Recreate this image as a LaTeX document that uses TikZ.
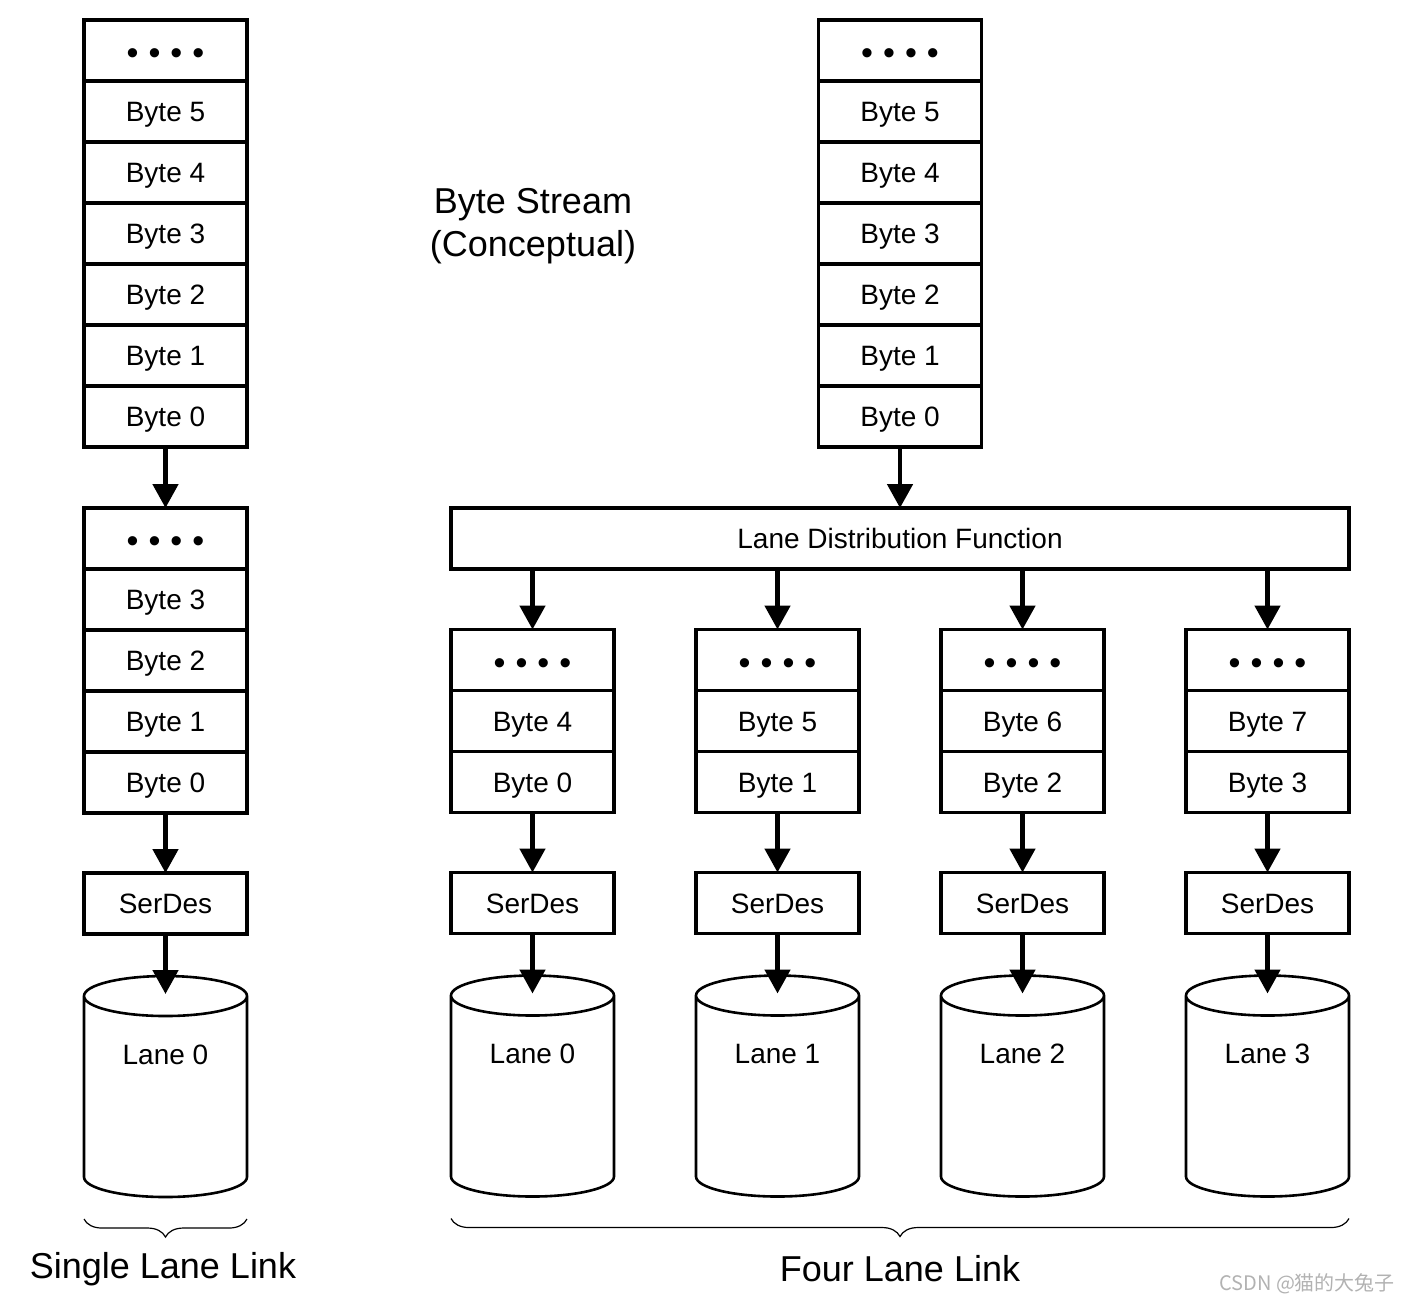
\documentclass[tikz,border=0pt]{standalone}
\usepackage{fontspec}
\setmainfont{Liberation Sans}
\newfontfamily\cjkfont{Noto Sans CJK SC}
\usepackage{tikz}
\usetikzlibrary{arrows.meta,positioning,calc,decorations.pathreplacing}

\newcommand{\dotrow}{\raisebox{-2pt}{\fontsize{17}{17}\selectfont •\hspace{5pt}•\hspace{5pt}•\hspace{5pt}•}}

\begin{document}
\begin{tikzpicture}[x=0.5pt, y=-0.5pt,
    cell/.style={draw, line width=1.6pt, font=\fontsize{14}{16}\selectfont,
                 text height=10pt, text depth=0pt,
                 minimum width=81.5pt, minimum height=30.5pt, inner sep=0pt, outer sep=0pt},
    ldf/.style={cell, minimum width=449pt},
    lane/.style={font=\fontsize{14}{16}\selectfont, text height=10pt, text depth=32.5pt,
                 minimum width=81.5pt, minimum height=110.5pt, inner sep=0pt, outer sep=0pt},
    cyl/.style={line width=1.3pt},
    arr/.style={line width=2.4pt, -{Triangle[width=12.5pt,length=12pt]}},
    brc/.style={decorate, decoration={brace, mirror, amplitude=9pt}, line width=0.6pt},
    linklbl/.style={font=\fontsize{18}{21.5}\selectfont, align=center}
  ]
    \useasboundingbox (0,0) rectangle (1416,1303);

    % single lane link
    \node[cell]                    (sDots) at (165.5,50.5) {\dotrow};
    \node[cell, below=0pt of sDots] (s5)   {Byte 5};
    \node[cell, below=0pt of s5]    (s4)   {Byte 4};
    \node[cell, below=0pt of s4]    (s3)   {Byte 3};
    \node[cell, below=0pt of s3]    (s2)   {Byte 2};
    \node[cell, below=0pt of s2]    (s1)   {Byte 1};
    \node[cell, below=0pt of s1]    (s0)   {Byte 0};

    \node[cell, below=30.5pt of s0]  (qDots) {\dotrow};
    \node[cell, below=0pt of qDots]  (q3)    {Byte 3};
    \node[cell, below=0pt of q3]     (q2)    {Byte 2};
    \node[cell, below=0pt of q2]     (q1)    {Byte 1};
    \node[cell, below=0pt of q1]     (q0)    {Byte 0};
    \node[cell, below=30pt of q0]    (sd)    {SerDes};
    \node[lane, below=21pt of sd]    (ln)    {Lane 0};

    \node[linklbl] (bs) at (533,226) {Byte Stream\\(Conceptual)};

    % four lane link
    \node[cell]                    (fDots) at (900,50.5) {\dotrow};
    \node[cell, below=0pt of fDots] (f5)   {Byte 5};
    \node[cell, below=0pt of f5]    (f4)   {Byte 4};
    \node[cell, below=0pt of f4]    (f3)   {Byte 3};
    \node[cell, below=0pt of f3]    (f2)   {Byte 2};
    \node[cell, below=0pt of f2]    (f1)   {Byte 1};
    \node[cell, below=0pt of f1]    (f0)   {Byte 0};
    \node[ldf, below=30.5pt of f0]  (ldf)  {Lane Distribution Function};

    \foreach \k/\hi in {0/4,1/5,2/6,3/7} {
      \node[cell] (bDots\k) at (532.5+245*\k,660) {\dotrow};
      \node[cell, below=0pt of bDots\k] (bHi\k) {Byte \hi};
      \node[cell, below=0pt of bHi\k]   (bLo\k) {Byte \k};
      \node[cell, below=30pt of bLo\k]  (sd\k)  {SerDes};
      \node[lane, below=21pt of sd\k]   (ln\k)  {Lane \k};
    }

    % cylinder outlines
    \foreach \n in {ln,ln0,ln1,ln2,ln3} {
      \draw[cyl] ([yshift=-10pt]\n.north west) -- ([yshift=10pt]\n.south west)
        arc[start angle=180, end angle=360, x radius=40.75pt, y radius=10pt]
        -- ([yshift=-10pt]\n.north east)
        arc[start angle=0, end angle=180, x radius=40.75pt, y radius=10pt]
        arc[start angle=180, end angle=360, x radius=40.75pt, y radius=10pt];
    }

    % arrows
    \draw[arr] (s0) -- (qDots);
    \draw[arr] (q0) -- (sd);
    \draw[arr, shorten >=-9pt] (sd) -- (ln);
    \draw[arr] (f0) -- (ldf);
    \foreach \k in {0,...,3} {
      \draw[arr] (bDots\k |- ldf.south) -- (bDots\k);
      \draw[arr] (bLo\k) -- (sd\k);
      \draw[arr, shorten >=-9pt] (sd\k) -- (ln\k);
    }

    % braces
    \coordinate (brL1) at ($(ln.south west)+(0,22)$);
    \coordinate (brL2) at ($(ln.south east)+(0,22)$);
    \coordinate (brR1) at ($(ln0.south west)+(0,22)$);
    \coordinate (brR2) at ($(ln3.south east)+(0,22)$);
    \draw[brc] (brL1) -- (brL2);
    \draw[brc] (brR1) -- (brR2);
    \node[linklbl] (single) at (163,1269) {Single Lane Link};
    \node[linklbl] (four)   at (900,1269) {Four Lane Link};

    \node[font=\cjkfont\fontsize{10}{12}\selectfont, text=gray!60, anchor=east] (wm) at (1402,1284) {CSDN @猫的大兔子};
\end{tikzpicture}
\end{document}
